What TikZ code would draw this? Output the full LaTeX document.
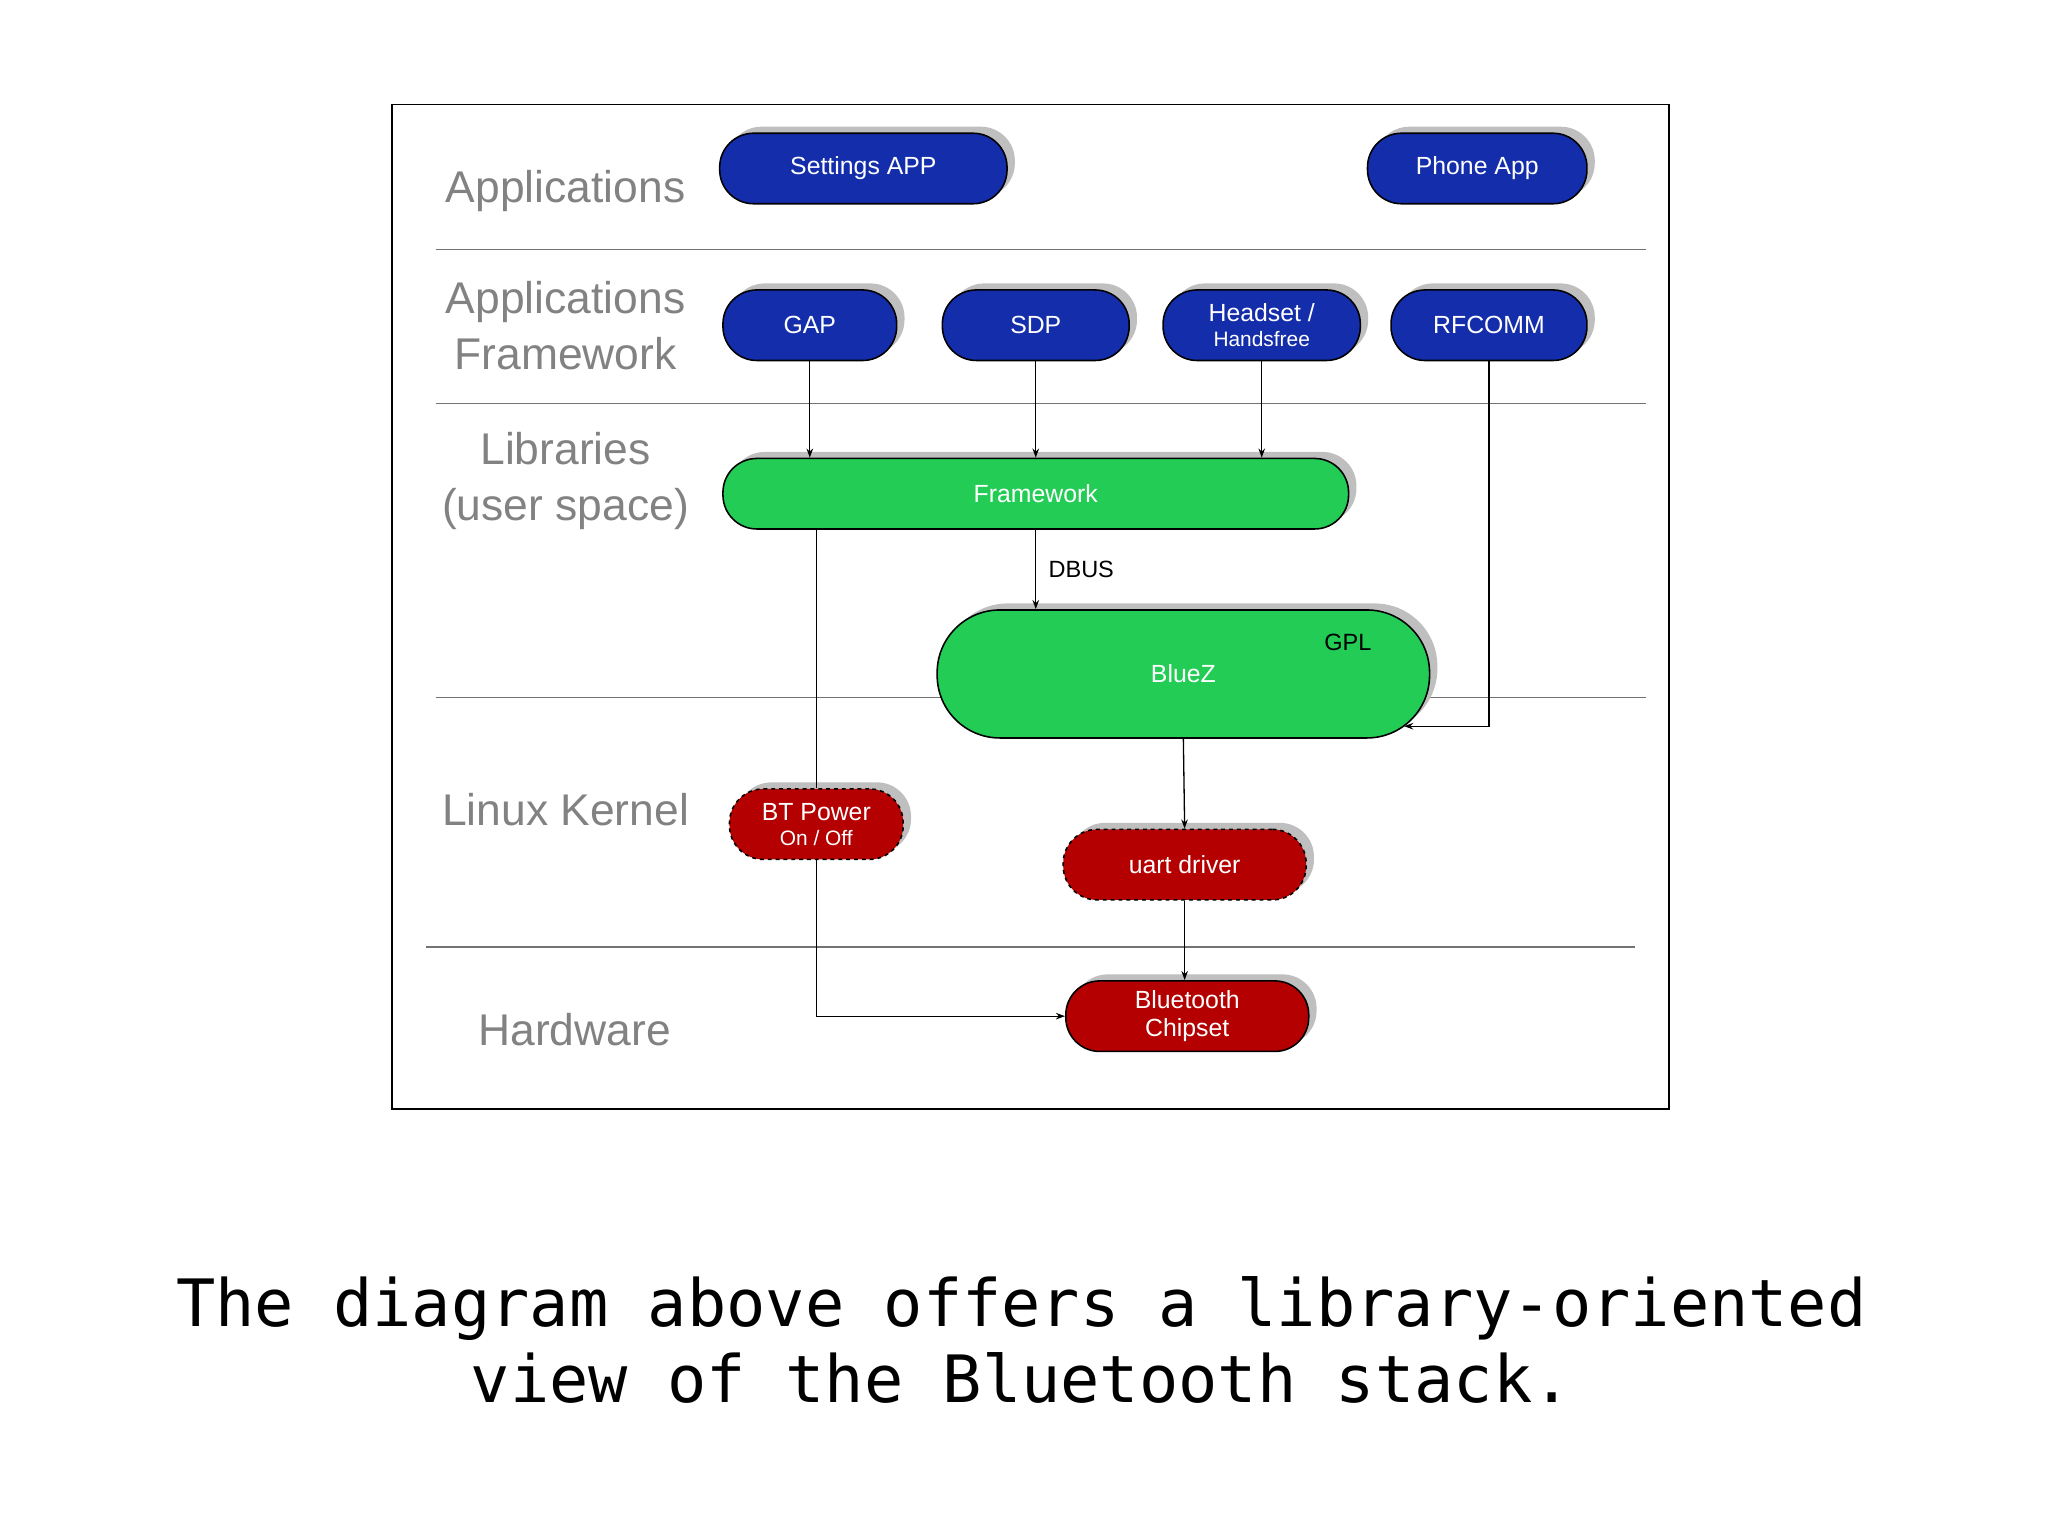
\documentclass[tikz,border=0pt]{standalone}
\usepackage{fontspec}
\setmainfont{Liberation Sans}
\newfontfamily\capfont{DejaVu Sans Mono}
\usetikzlibrary{arrows.meta}
\begin{document}
\begin{tikzpicture}[x=1pt,y=-1pt,
  pill/.style={draw=black, line width=1.2pt, rounded corners=26pt, text=white, align=center, inner sep=0pt,
    font=\fontsize{19}{21}\selectfont,
    preaction={fill=black!25, transform canvas={shift={(6pt,5pt)}}}},
  bluep/.style={pill, fill=blue!45!black!90!blue, fill={rgb,255:red,20;green,45;blue,170}},
  greenp/.style={pill, fill={rgb,255:red,34;green,204;blue,85}},
  redp/.style={pill, fill={rgb,255:red,180;green,0;blue,0}, dashed},
  lay/.style={text={rgb,255:red,130;green,130;blue,130}, font=\fontsize{34}{43}\selectfont, align=center},
  sep/.style={draw=black!55, line width=1pt},
  conn/.style={draw=black, line width=1pt, -{Stealth[length=7pt,width=5pt]}}]
\useasboundingbox (0,0) rectangle (1568,1175);
\draw[line width=1.2pt] (300,80) rectangle (1278,849);
\draw[sep] (334,191) -- (1260,191);
\draw[sep] (334,309) -- (1260,309);
\draw[sep] (334,534) -- (1260,534);
\draw[sep] (326,725) -- (1252,725);
\node[lay] (l1) at (433,146) {Applications};
\node[lay] (l2) at (433,249) {Applications\\Framework};
\node[lay] (l3) at (433,368) {Libraries\\(user space)};
\node[lay] (l4) at (433,620) {Linux Kernel};
\node[lay] (l5) at (440,788) {Hardware};
\node[bluep, minimum width=220, minimum height=54] (set) at (661,129) {Settings APP};
\node[bluep, minimum width=168, minimum height=54] (phone) at (1131,129) {Phone App};
\node[bluep, minimum width=133, minimum height=54] (gap) at (620,249) {GAP};
\node[bluep, minimum width=143, minimum height=54] (sdp) at (793,249) {SDP};
\node[bluep, minimum width=151, minimum height=54] (hs) at (966,249) {Headset /\\[-2pt]{\fontsize{16}{17}\selectfont Handsfree}};
\node[bluep, minimum width=150, minimum height=54] (rf) at (1140,249) {RFCOMM};
\node[greenp, minimum width=479, minimum height=54] (fw) at (793,378) {Framework};
\node[greenp, minimum width=377, minimum height=98, rounded corners=48pt] (bz) at (906,516) {BlueZ};
\node[font=\fontsize{18}{20}\selectfont] (gpl) at (1032,492) {GPL};
\node[redp, minimum width=133, minimum height=54] (bt) at (625,631) {BT Power\\[-2pt]{\fontsize{16}{17}\selectfont On / Off}};
\node[redp, minimum width=186, minimum height=54] (uart) at (907,662) {uart driver};
\node[pill, fill={rgb,255:red,180;green,0;blue,0}, minimum width=186, minimum height=54] (chip) at (909,778) {Bluetooth\\Chipset};
\draw[conn] (gap.south) -- (fw.north -| gap.south);
\draw[conn] (sdp.south) -- (fw.north -| sdp.south);
\draw[conn] (hs.south) -- (fw.north -| hs.south);
\draw[conn] (fw.south) -- node[right, font=\fontsize{18}{20}\selectfont, text=black, xshift=6pt] {DBUS} (bz.north -| fw.south);
\coordinate (rfc) at (1140,556);
\draw[conn] (rf.south) -- (rfc) -- (1075,556);
\draw[conn] (bz.south) -- (uart.north);
\draw[conn] (uart.south) -- (chip.north -| uart.south);
\coordinate (btc) at (625,778);
\draw[line width=1pt] (fw.south -| bt.north) -- (bt.north);
\draw[conn] (bt.south) -- (btc) -- (chip.west);
\node[font={\capfont\fontsize{50}{58}\selectfont}, align=center] (cap) at (782,1026) {The diagram above offers a library-oriented\\view of the Bluetooth stack.};
\end{tikzpicture}
\end{document}
